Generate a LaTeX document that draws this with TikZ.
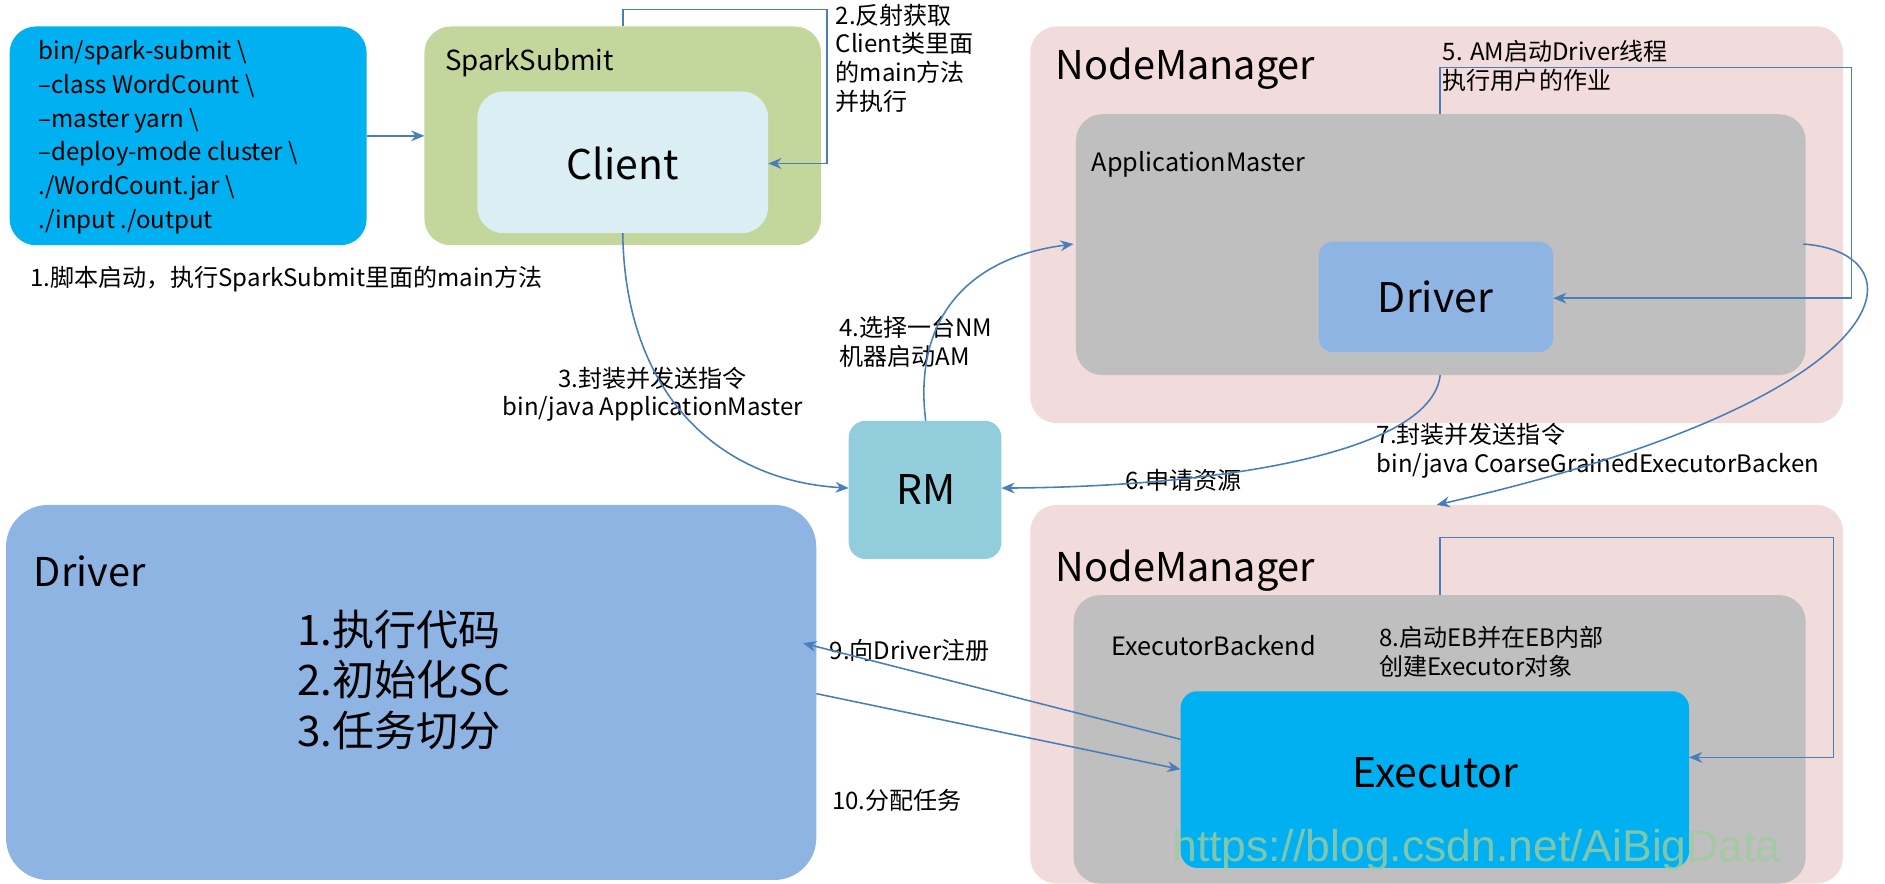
\documentclass[tikz,border=0pt]{standalone}
\usepackage{fontspec}
\setmainfont{Noto Sans CJK SC}
\newfontfamily\wmfont{Liberation Sans}
\usetikzlibrary{arrows.meta}
\definecolor{cmdc}{HTML}{00B0F0}
\definecolor{ssc}{HTML}{C3D69B}
\definecolor{clc}{HTML}{DAEEF3}
\definecolor{nmc}{HTML}{F2DCDB}
\definecolor{grc}{HTML}{BFBFBF}
\definecolor{drc}{HTML}{8EB4E3}
\definecolor{rmc}{HTML}{92CDDC}
\definecolor{arc}{HTML}{4A7EBB}
\newcommand{\fs}[1]{\fontsize{#1}{\dimexpr#1pt*6/5\relax}\selectfont}
\tikzset{
 box/.style={rounded corners=22pt,draw=none},
 lab/.style={anchor=west,inner sep=0pt},
 txt/.style={anchor=north west,inner sep=0pt,align=left,font=\fs{20}},
 arr/.style={draw=arc,line width=1.3pt,-{Stealth[length=11pt,width=9pt]}},
}
\begin{document}
\begin{tikzpicture}[x=1pt,y=-1pt]
\useasboundingbox (0,0) rectangle (1568,735);
\fill[white] (0,0) rectangle (1568,735);
% boxes
\fill[box,cmdc] (8,22) rectangle (305,204);
\node (cmd) [txt,anchor=west,font=\fs{20}] at (32,114) {bin/spark-submit \textbackslash\\[4pt]--class WordCount \textbackslash\\[4pt]--master yarn \textbackslash\\[4pt]--deploy-mode cluster \textbackslash\\[4pt]./WordCount.jar \textbackslash\\[4pt]./input ./output};
\coordinate (cmdR) at (305,113);
\fill[box,ssc] (353,22) rectangle (683,204);
\coordinate (ssL) at (353,113);
\node (sslab) [lab,font=\fs{23}] at (370,52) {SparkSubmit};
\fill[box,clc] (397,76) rectangle (639,194);
\node (client) [font=\fs{34}] at (518,136) {Client};
\coordinate (clB) at (518,194);\coordinate (clT) at (518,22);\coordinate (clR) at (639,136);
\node (t1) [lab,font=\fs{20}] at (25,232) {1.脚本启动，执行SparkSubmit里面的main方法};
\node (t2) [txt] at (695,3) {2.反射获取\\Client类里面\\的main方法\\并执行};

\fill[box,nmc] (857,22) rectangle (1533,352);
\node (nm1) [lab,font=\fs{33}] at (878,57) {NodeManager};
\fill[box,grc] (895,95) rectangle (1502,312);
\node (am) [lab,font=\fs{21}] at (908,137) {ApplicationMaster};
\fill[box,drc,rounded corners=12pt] (1097,201) rectangle (1292,293);
\node (drv) [font=\fs{34}] at (1194,247) {Driver};
\node (t5) [txt] at (1200,33) {5. AM启动Driver线程\\执行用户的作业};

\fill[box,rmc,rounded corners=14pt] (706,350) rectangle (833,465);
\node (rm) [font=\fs{34}] at (770,407) {RM};

\fill[box,nmc] (857,420) rectangle (1533,735);
\node (nm2) [lab,font=\fs{33}] at (878,475) {NodeManager};
\fill[box,grc] (893,495) rectangle (1502,735);
\node (eb) [lab,font=\fs{21}] at (924,537) {ExecutorBackend};
\fill[box,cmdc,rounded corners=14pt] (982,575) rectangle (1405,722);
\node (exe) [font=\fs{34}] at (1194,643) {Executor};
\node (t8) [txt] at (1147,521) {8.启动EB并在EB内部\\创建Executor对象};

\fill[box,drc,rounded corners=35pt] (5,420) rectangle (679,732);
\node (bd) [lab,font=\fs{33}] at (28,475) {Driver};
\node (bdt) [txt,font=\fs{35}] at (247,507) {1.执行代码\\2.初始化SC\\3.任务切分};

% labels
\node (t3) [align=center,inner sep=0pt,font=\fs{20}] at (543,328) {3.封装并发送指令\\bin/java ApplicationMaster};
\node (t4) [txt] at (698,263) {4.选择一台NM\\机器启动AM};
\node (t6) [lab,font=\fs{20}] at (936,400) {6.申请资源};
\node (t7) [txt] at (1145,352) {7.封装并发送指令\\bin/java CoarseGrainedExecutorBacken};
\node (t9) [lab,font=\fs{20}] at (690,541) {9.向Driver注册};
\node (t10) [lab,font=\fs{20}] at (692,666) {10.分配任务};

% connectors
\draw[arr] (cmdR) -- (ssL);
\draw[arr] (clT) -- (518,8) -- (688,8) -- (688,136) -- (clR);
\draw[arr] (1198,95) -- (1198,56) -- (1540,56) -- (1540,248) -- (1292,248);
\draw[arr] (1198,495) -- (1198,447) -- (1525,447) -- (1525,630) -- (1405,630);
\draw[arr] (clB) .. controls (520,330) and (600,400) .. (706,406);
\draw[arr] (770,350) .. controls (760,270) and (800,215) .. (893,203);
\draw[arr] (1198,312) .. controls (1190,380) and (1000,405) .. (833,406);
\draw[arr] (1500,203) .. controls (1600,210) and (1590,330) .. (1195,420);
\draw[arr] (982,615) -- (668,535);
\draw[arr] (679,577) -- (982,640);

\node (wm) [lab,font=\wmfont\fontsize{37}{40}\selectfont,text=white!70!green!60!gray,opacity=0.8] at (975,707) {https://blog.csdn.net/AiBigData};
\end{tikzpicture}
\end{document}
